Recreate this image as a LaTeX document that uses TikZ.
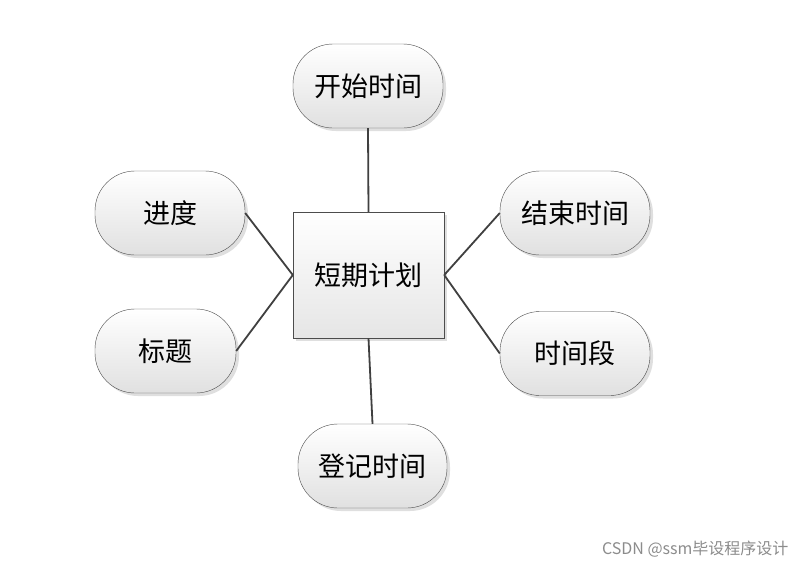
\documentclass[tikz,border=0pt]{standalone}
\usepackage{fontspec}
\setmainfont{Noto Sans CJK SC}
\newfontfamily\wmfont{Noto Sans CJK SC}
\usetikzlibrary{shadings,shadows}
\tikzset{
  attr/.style={draw=black!70,rounded corners=40pt,minimum width=150pt,minimum height=84pt,
    top color=white,bottom color=black!12,drop shadow={opacity=0.25,shadow xshift=3pt,shadow yshift=-3pt},
    font=\fontsize{27}{30}\selectfont,inner sep=0pt},
  ent/.style={draw=black!70,minimum width=151pt,minimum height=126pt,
    top color=white,bottom color=black!10,drop shadow={opacity=0.25,shadow xshift=3pt,shadow yshift=-3pt},
    font=\fontsize{27}{30}\selectfont,inner sep=0pt},
  link/.style={line width=1.8pt,draw=black!75}
}
\begin{document}
\begin{tikzpicture}[x=1pt,y=-1pt]
\useasboundingbox[fill=white] (0,0) rectangle (806,568);
\node[ent] (plan) at (368.5,275) {短期计划};
\node[attr] (start) at (368,86) {开始时间};
\node[attr] (progress) at (170,213) {进度};
\node[attr] (finish) at (575,213) {结束时间};
\node[attr,minimum width=141pt] (title) at (165.5,351) {标题};
\node[attr] (period) at (575,353.5) {时间段};
\node[attr,minimum width=149pt] (register) at (372.5,466) {登记时间};
% connectors
\draw[link] (start.south) -- (plan.north);
\draw[link] (progress.east) -- (plan.west);
\draw[link] (title.east) -- (plan.west);
\draw[link] (finish.west) -- (plan.east);
\draw[link] (period.west) -- (plan.east);
\draw[link] (plan.south) -- (register.north);
\node[text=black!45,font=\wmfont\fontsize{16}{18}\selectfont,anchor=east] (mark) at (792,549) {CSDN @ssm毕设程序设计};
\end{tikzpicture}
\end{document}
